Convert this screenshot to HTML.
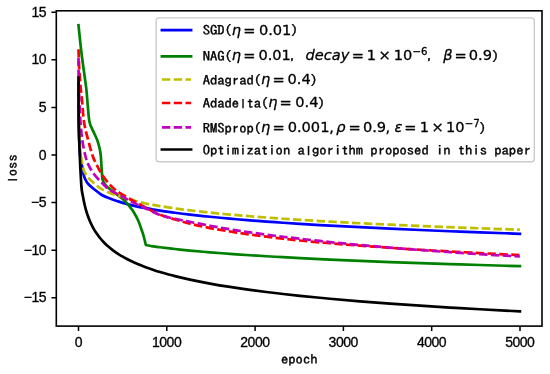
<!DOCTYPE html>
<html><head><meta charset="utf-8"><title>loss</title>
<style>
html,body{margin:0;padding:0;background:#fff;}
svg{display:block}
.s{font-family:"IPAGothic","WenQuanYi Zen Hei Mono","DejaVu Sans Mono","Liberation Mono",monospace;font-size:14.58px;letter-spacing:0;fill:#000;stroke:#000;stroke-width:0.42px}
.m{font-family:"DejaVu Sans","Liberation Sans",sans-serif;font-size:14.58px;letter-spacing:0;fill:#000;stroke:#000;stroke-width:0.3px}
.d{font-family:"Liberation Sans","DejaVu Sans",sans-serif;font-size:14px;letter-spacing:-0.49px;fill:#000;stroke:#000;stroke-width:0.3px}
.i{font-style:italic}
.sup{font-size:10.2px}
.c{font-size:11px}
.l{font-family:"Liberation Sans","DejaVu Sans",sans-serif;font-size:13.6px;stroke-width:0.25px}
</style></head><body>
<svg width="550" height="374" viewBox="0 0 550 374">
<rect x="0" y="0" width="550" height="374" fill="#fff"/>
<g fill="none" stroke-width="2.70" stroke-linejoin="round">
<path d="M78.50,85.00 C78.52,89.17 78.48,100.83 78.60,110.00 C78.72,119.17 78.92,132.33 79.20,140.00 C79.48,147.67 79.87,151.83 80.30,156.00 C80.73,160.17 81.27,161.97 81.80,165.00 C82.33,168.03 82.97,171.92 83.50,174.20 C84.03,176.48 84.30,177.18 85.00,178.70 C85.70,180.22 86.48,181.78 87.70,183.30 C88.92,184.82 91.17,186.77 92.30,187.80 C93.43,188.83 92.92,188.30 94.50,189.50 C96.08,190.70 99.22,193.48 101.80,195.00 C104.38,196.52 107.27,197.53 110.00,198.60 C112.73,199.67 115.32,200.48 118.20,201.40 C121.08,202.32 124.27,203.27 127.30,204.10 C130.33,204.93 133.37,205.72 136.40,206.40 C139.43,207.08 142.73,207.68 145.50,208.20 C148.27,208.72 150.58,209.11 153.00,209.51 C155.42,209.92 156.33,210.09 160.00,210.63 C163.67,211.17 170.00,212.10 175.00,212.76 C180.00,213.43 184.17,213.95 190.00,214.62 C195.83,215.29 203.33,216.10 210.00,216.77 C216.67,217.45 223.33,218.06 230.00,218.66 C236.67,219.25 242.50,219.74 250.00,220.33 C257.50,220.91 266.67,221.60 275.00,222.18 C283.33,222.77 290.83,223.27 300.00,223.84 C309.17,224.42 320.00,225.06 330.00,225.62 C340.00,226.19 350.00,226.71 360.00,227.22 C370.00,227.73 380.00,228.21 390.00,228.67 C400.00,229.14 410.00,229.58 420.00,230.00 C430.00,230.43 440.00,230.84 450.00,231.23 C460.00,231.63 470.83,232.04 480.00,232.38 C489.17,232.72 498.35,233.04 505.00,233.27 C511.65,233.50 517.42,233.70 519.90,233.78" stroke="#0000ff" stroke-linecap="square"/>
<path d="M78.50,25.20 C79.02,30.00 80.32,43.53 81.60,54.00 C82.88,64.47 85.18,79.50 86.20,88.00 C87.22,96.50 87.15,99.33 87.70,105.00 C88.25,110.67 88.58,117.65 89.50,122.00 C90.42,126.35 91.90,128.07 93.20,131.10 C94.50,134.13 96.20,137.17 97.30,140.20 C98.40,143.23 99.22,146.67 99.80,149.30 C100.38,151.93 100.53,153.37 100.80,156.00 C101.07,158.63 101.20,162.07 101.40,165.10 C101.60,168.13 101.83,171.93 102.00,174.20 C102.17,176.47 102.15,177.43 102.40,178.70 C102.65,179.97 102.98,180.75 103.50,181.80 C104.02,182.85 104.72,184.00 105.50,185.00 C106.28,186.00 106.85,186.67 108.20,187.80 C109.55,188.93 111.93,190.52 113.60,191.80 C115.27,193.08 116.68,194.28 118.20,195.50 C119.72,196.72 121.18,197.75 122.70,199.10 C124.22,200.45 125.93,202.08 127.30,203.60 C128.67,205.12 129.85,206.80 130.90,208.20 C131.95,209.60 132.38,209.95 133.60,212.00 C134.82,214.05 136.83,217.42 138.20,220.50 C139.57,223.58 140.97,228.17 141.80,230.50 C142.63,232.83 142.52,232.08 143.20,234.50 C143.88,236.92 145.45,243.25 145.90,245.00 C147.08,245.22 150.65,245.96 153.00,246.34 C155.35,246.72 156.33,246.82 160.00,247.27 C163.67,247.71 170.00,248.48 175.00,249.03 C180.00,249.57 184.17,250.00 190.00,250.55 C195.83,251.10 203.33,251.77 210.00,252.33 C216.67,252.88 223.33,253.38 230.00,253.87 C236.67,254.35 242.50,254.75 250.00,255.23 C257.50,255.71 266.67,256.27 275.00,256.75 C283.33,257.23 290.83,257.64 300.00,258.10 C309.17,258.57 320.00,259.09 330.00,259.55 C340.00,260.01 350.00,260.44 360.00,260.85 C370.00,261.26 380.00,261.65 390.00,262.03 C400.00,262.40 410.00,262.76 420.00,263.11 C430.00,263.45 440.00,263.78 450.00,264.10 C460.00,264.42 470.83,264.75 480.00,265.02 C489.17,265.30 498.35,265.56 505.00,265.75 C511.65,265.94 517.42,266.09 519.90,266.16" stroke="#008000" stroke-linecap="square"/>
<path d="M78.50,85.00 C78.52,87.50 78.43,90.83 78.60,100.00 C78.77,109.17 79.03,130.22 79.50,140.00 C79.97,149.78 80.72,153.77 81.40,158.70 C82.08,163.63 82.85,167.02 83.60,169.60 C84.35,172.18 84.98,172.68 85.90,174.20 C86.82,175.72 87.73,177.18 89.10,178.70 C90.47,180.22 92.28,181.72 94.10,183.30 C95.92,184.88 97.50,186.63 100.00,188.20 C102.50,189.77 106.07,191.43 109.10,192.70 C112.13,193.97 115.17,194.83 118.20,195.80 C121.23,196.77 124.27,197.60 127.30,198.50 C130.33,199.40 133.37,200.37 136.40,201.20 C139.43,202.03 142.73,202.88 145.50,203.50 C148.27,204.12 150.58,204.49 153.00,204.93 C155.42,205.36 156.33,205.55 160.00,206.13 C163.67,206.71 170.00,207.69 175.00,208.40 C180.00,209.10 184.17,209.66 190.00,210.36 C195.83,211.06 203.33,211.91 210.00,212.61 C216.67,213.31 223.33,213.95 230.00,214.56 C236.67,215.17 242.50,215.67 250.00,216.27 C257.50,216.87 266.67,217.57 275.00,218.17 C283.33,218.76 290.83,219.27 300.00,219.84 C309.17,220.42 320.00,221.07 330.00,221.63 C340.00,222.20 350.00,222.72 360.00,223.23 C370.00,223.73 380.00,224.21 390.00,224.67 C400.00,225.13 410.00,225.56 420.00,225.98 C430.00,226.40 440.00,226.80 450.00,227.19 C460.00,227.57 470.83,227.97 480.00,228.30 C489.17,228.64 498.35,228.95 505.00,229.18 C511.65,229.40 517.42,229.59 519.90,229.67" stroke="#bfbf00" stroke-dasharray="8.4 3.4" stroke-linecap="butt"/>
<path d="M78.50,49.20 C78.63,52.67 78.93,63.53 79.30,70.00 C79.67,76.47 80.25,83.00 80.70,88.00 C81.15,93.00 81.45,94.33 82.00,100.00 C82.55,105.67 82.97,115.30 84.00,122.00 C85.03,128.70 86.75,134.53 88.20,140.20 C89.65,145.87 91.27,151.85 92.70,156.00 C94.13,160.15 95.28,162.07 96.80,165.10 C98.32,168.13 99.83,171.17 101.80,174.20 C103.77,177.23 106.32,180.67 108.60,183.30 C110.88,185.93 112.38,187.63 115.50,190.00 C118.62,192.37 123.82,195.42 127.30,197.50 C130.78,199.58 133.37,200.83 136.40,202.50 C139.43,204.17 141.57,205.47 145.50,207.50 C149.43,209.53 155.08,212.66 160.00,214.65 C164.92,216.65 170.00,217.98 175.00,219.47 C180.00,220.97 184.17,222.20 190.00,223.63 C195.83,225.07 203.33,226.76 210.00,228.07 C216.67,229.38 223.33,230.44 230.00,231.51 C236.67,232.58 242.50,233.46 250.00,234.49 C257.50,235.53 266.67,236.72 275.00,237.72 C283.33,238.73 290.83,239.61 300.00,240.53 C309.17,241.46 320.00,242.41 330.00,243.27 C340.00,244.12 350.00,244.90 360.00,245.66 C370.00,246.41 380.00,247.12 390.00,247.80 C400.00,248.48 410.00,249.12 420.00,249.73 C430.00,250.34 440.00,250.91 450.00,251.47 C460.00,252.04 470.83,252.63 480.00,253.12 C489.17,253.60 498.35,254.05 505.00,254.38 C511.65,254.71 517.42,254.97 519.90,255.09" stroke="#ff0000" stroke-dasharray="8.4 3.4" stroke-linecap="butt"/>
<path d="M78.50,57.80 C78.53,61.50 78.53,72.13 78.70,80.00 C78.87,87.87 79.20,98.00 79.50,105.00 C79.80,112.00 80.03,116.13 80.50,122.00 C80.97,127.87 81.48,134.53 82.30,140.20 C83.12,145.87 84.35,151.85 85.40,156.00 C86.45,160.15 87.15,162.07 88.60,165.10 C90.05,168.13 91.82,171.17 94.10,174.20 C96.38,177.23 99.80,180.75 102.30,183.30 C104.80,185.85 106.45,187.63 109.10,189.50 C111.75,191.37 115.17,192.83 118.20,194.50 C121.23,196.17 124.27,197.90 127.30,199.50 C130.33,201.10 133.37,202.65 136.40,204.10 C139.43,205.55 141.57,206.39 145.50,208.20 C149.43,210.01 155.08,213.22 160.00,214.99 C164.92,216.75 170.00,217.63 175.00,218.79 C180.00,219.94 184.17,220.76 190.00,221.92 C195.83,223.08 203.33,224.50 210.00,225.73 C216.67,226.96 223.33,228.18 230.00,229.29 C236.67,230.40 242.50,231.31 250.00,232.39 C257.50,233.47 266.67,234.72 275.00,235.77 C283.33,236.83 290.83,237.68 300.00,238.73 C309.17,239.78 320.00,241.02 330.00,242.07 C340.00,243.12 350.00,244.09 360.00,245.02 C370.00,245.95 380.00,246.81 390.00,247.64 C400.00,248.47 410.00,249.25 420.00,250.01 C430.00,250.76 440.00,251.49 450.00,252.17 C460.00,252.86 470.83,253.54 480.00,254.12 C489.17,254.69 498.35,255.23 505.00,255.63 C511.65,256.02 517.42,256.35 519.90,256.49" stroke="#bf00bf" stroke-dasharray="8.4 3.4" stroke-linecap="butt"/>
<path d="M78.50,77.60 C78.50,80.50 78.47,87.60 78.50,95.00 C78.53,102.40 78.58,114.50 78.70,122.00 C78.82,129.50 79.02,134.33 79.20,140.00 C79.38,145.67 79.57,150.50 79.80,156.00 C80.03,161.50 80.30,167.58 80.60,173.00 C80.90,178.42 81.20,184.54 81.60,188.50 C82.00,192.46 82.52,194.17 83.00,196.79 C83.48,199.40 84.00,201.99 84.50,204.20 C85.00,206.41 85.42,208.03 86.00,210.05 C86.58,212.07 87.25,214.23 88.00,216.31 C88.75,218.39 89.67,220.65 90.50,222.53 C91.33,224.40 92.08,225.89 93.00,227.56 C93.92,229.23 94.83,230.82 96.00,232.55 C97.17,234.29 98.67,236.34 100.00,237.99 C101.33,239.65 102.67,241.09 104.00,242.47 C105.33,243.85 106.50,244.97 108.00,246.28 C109.50,247.59 111.33,249.08 113.00,250.33 C114.67,251.59 116.17,252.63 118.00,253.81 C119.83,255.00 122.00,256.30 124.00,257.43 C126.00,258.55 127.83,259.51 130.00,260.57 C132.17,261.62 134.50,262.71 137.00,263.77 C139.50,264.84 142.33,265.97 145.00,266.98 C147.67,267.98 150.50,268.95 153.00,269.79 C155.50,270.63 156.33,270.95 160.00,272.01 C163.67,273.06 170.00,274.86 175.00,276.13 C180.00,277.41 184.17,278.39 190.00,279.63 C195.83,280.87 203.33,282.36 210.00,283.58 C216.67,284.80 223.33,285.90 230.00,286.94 C236.67,287.99 242.50,288.84 250.00,289.86 C257.50,290.87 266.67,292.04 275.00,293.03 C283.33,294.02 290.83,294.86 300.00,295.80 C309.17,296.75 320.00,297.81 330.00,298.72 C340.00,299.63 350.00,300.48 360.00,301.29 C370.00,302.10 380.00,302.85 390.00,303.58 C400.00,304.30 410.00,304.99 420.00,305.64 C430.00,306.30 440.00,306.93 450.00,307.53 C460.00,308.13 470.83,308.74 480.00,309.26 C489.17,309.77 498.35,310.24 505.00,310.59 C511.65,310.94 517.42,311.23 519.90,311.35" stroke="#000000" stroke-linecap="square"/>
</g>
<rect x="56.30" y="10.80" width="485.70" height="315.30" fill="none" stroke="#000" stroke-width="1.6"/>
<path d="M78.50,326.10v4.9M166.80,326.10v4.9M255.10,326.10v4.9M343.40,326.10v4.9M431.70,326.10v4.9M520.00,326.10v4.9M56.30,12.31h-4.9M56.30,59.87h-4.9M56.30,107.44h-4.9M56.30,155.00h-4.9M56.30,202.56h-4.9M56.30,250.13h-4.9M56.30,297.69h-4.9" stroke="#000" stroke-width="1.5" fill="none"/>
<text class="d" x="78.30" y="346.8" text-anchor="middle">0</text>
<text class="d" x="166.60" y="346.8" text-anchor="middle">1000</text>
<text class="d" x="254.90" y="346.8" text-anchor="middle">2000</text>
<text class="d" x="343.20" y="346.8" text-anchor="middle">3000</text>
<text class="d" x="431.50" y="346.8" text-anchor="middle">4000</text>
<text class="d" x="519.80" y="346.8" text-anchor="middle">5000</text>
<text class="d" x="46.0" y="16.81" text-anchor="end">15</text>
<text class="d" x="46.0" y="64.37" text-anchor="end">10</text>
<text class="d" x="46.0" y="111.94" text-anchor="end">5</text>
<text class="d" x="46.0" y="159.50" text-anchor="end">0</text>
<text class="d" x="46.0" y="207.06" text-anchor="end">−5</text>
<text class="d" x="46.0" y="254.63" text-anchor="end">−10</text>
<text class="d" x="46.0" y="302.19" text-anchor="end">−15</text>
<text class="s" transform="translate(281.03,364.40) scale(1,0.905)" textLength="36.45">epoch</text>
<g transform="translate(16.8,168.9) rotate(-90)"><text class="s l" x="-12.28" y="0.00">l</text><text class="s" transform="translate(-7.29,0.00) scale(1,0.905)" textLength="21.87">oss</text></g>
<rect x="156.2" y="17.9" width="378.1" height="143.8" rx="2.8" ry="2.8" fill="#fff" fill-opacity="0.8" stroke="#cccccc" stroke-width="1.4"/>
<path d="M161.9,30.20H191.1" stroke="#0000ff" stroke-width="2.70" stroke-linecap="square" fill="none"/>
<path d="M161.9,56.40H191.1" stroke="#008000" stroke-width="2.70" stroke-linecap="square" fill="none"/>
<path d="M161.9,79.50H191.1" stroke="#bfbf00" stroke-width="2.70" stroke-dasharray="8.4 3.4" fill="none"/>
<path d="M161.9,103.00H191.1" stroke="#ff0000" stroke-width="2.70" stroke-dasharray="8.4 3.4" fill="none"/>
<path d="M161.9,127.40H191.1" stroke="#bf00bf" stroke-width="2.70" stroke-dasharray="8.4 3.4" fill="none"/>
<path d="M161.9,149.50H191.1" stroke="#000000" stroke-width="2.70" stroke-linecap="square" fill="none"/>
<text class="s" transform="translate(202.70,35.40) scale(1,0.905)" textLength="29.16">SGD(</text><text class="m i" x="231.80" y="34.80">η</text><text class="m" x="243.30" y="35.50">=</text><text class="m" x="258.90" y="34.80">0.01</text><text class="s" transform="translate(290.75,35.40) scale(1,0.905)">)</text>
<text class="s" transform="translate(202.70,60.80) scale(1,0.905)" textLength="29.16">NAG(</text><text class="m i" x="231.80" y="60.20">η</text><text class="m" x="243.30" y="60.90">=</text><text class="m" x="258.40" y="60.20">0.01</text><text class="s c" x="290.30" y="59.80">，</text><text class="m i" x="305.50" y="60.20">decay</text><text class="m" x="351.80" y="60.90">=</text><text class="m" x="366.70" y="60.20">1</text><text class="m" x="378.60" y="60.20">×</text><text class="m" x="393.70" y="60.20">10</text><text class="m sup" x="412.40" y="55.20">−6</text><text class="s c" x="427.20" y="59.80">，</text><text class="m i" x="443.30" y="60.20">β</text><text class="m" x="454.40" y="60.90">=</text><text class="m" x="468.80" y="60.20">0.9</text><text class="s" transform="translate(491.75,60.80) scale(1,0.905)">)</text>
<text class="s" transform="translate(202.70,84.60) scale(1,0.905)" textLength="58.32">Adagrad(</text><text class="m i" x="261.00" y="84.00">η</text><text class="m" x="272.40" y="84.70">=</text><text class="m" x="287.60" y="84.00">0.4</text><text class="s" transform="translate(310.35,84.60) scale(1,0.905)">)</text>
<text class="s" transform="translate(202.70,107.90) scale(1,0.905)" textLength="36.45">Adade</text><text class="s l" x="241.45" y="107.90">l</text><text class="s" transform="translate(246.44,107.90) scale(1,0.905)" textLength="21.87">ta(</text><text class="m i" x="268.20" y="107.30">η</text><text class="m" x="279.50" y="108.00">=</text><text class="m" x="295.30" y="107.30">0.4</text><text class="s" transform="translate(317.75,107.90) scale(1,0.905)">)</text>
<text class="s" transform="translate(202.70,132.70) scale(1,0.905)" textLength="58.32">RMSprop(</text><text class="m i" x="261.00" y="132.10">η</text><text class="m" x="272.40" y="132.80">=</text><text class="m" x="287.70" y="132.10">0.001</text><text class="m" x="329.20" y="132.10">,</text><text class="m i" x="336.30" y="132.10">ρ</text><text class="m" x="348.40" y="132.80">=</text><text class="m" x="362.90" y="132.10">0.9</text><text class="m" x="385.60" y="132.10">,</text><text class="m i" x="394.40" y="132.10">ε</text><text class="m" x="404.20" y="132.80">=</text><text class="m" x="419.70" y="132.10">1</text><text class="m" x="431.50" y="132.10">×</text><text class="m" x="446.10" y="132.10">10</text><text class="m sup" x="464.70" y="127.10">−7</text><text class="s" transform="translate(478.95,132.70) scale(1,0.905)">)</text>
<text class="s" transform="translate(202.70,155.00) scale(1,0.905)" textLength="102.06">Optimization a</text><text class="s l" x="307.06" y="155.00">l</text><text class="s" transform="translate(312.05,155.00) scale(1,0.905)" textLength="218.70">gorithm proposed in this paper</text>
</svg>
</body></html>
